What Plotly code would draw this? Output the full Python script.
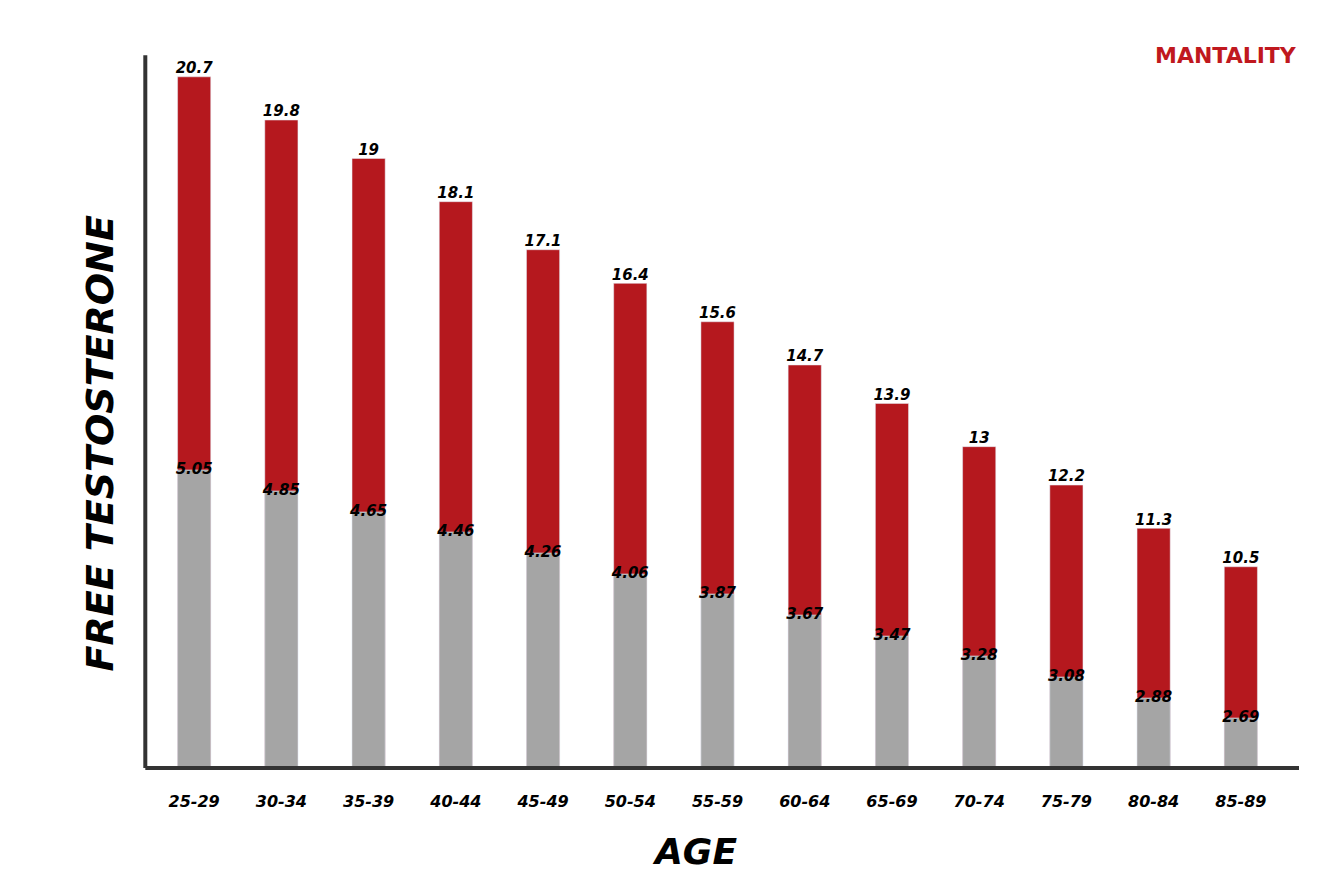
import plotly.graph_objects as go

ages = ["25-29","30-34","35-39","40-44","45-49","50-54","55-59","60-64","65-69","70-74","75-79","80-84","85-89"]
upper = [20.7,19.8,19,18.1,17.1,16.4,15.6,14.7,13.9,13,12.2,11.3,10.5]
lower = [5.05,4.85,4.65,4.46,4.26,4.06,3.87,3.67,3.47,3.28,3.08,2.88,2.69]
upper_labels = ["<b><i>%s</i></b>" % s for s in ["20.7","19.8","19","18.1","17.1","16.4","15.6","14.7","13.9","13","12.2","11.3","10.5"]]
lower_labels = ["<b><i>%s</i></b>" % s for s in ["5.05","4.85","4.65","4.46","4.26","4.06","3.87","3.67","3.47","3.28","3.08","2.88","2.69"]]
tick_labels = ["<b><i>%s</i></b>" % a for a in ages]

font_lbl = dict(family="DejaVu Sans", size=15, color="black")

fig = go.Figure()
fig.add_trace(go.Bar(x=ages, y=upper, marker_color="#B5181E", yaxis="y"))
fig.add_trace(go.Scatter(x=ages, y=upper, mode="text", text=upper_labels,
                         textposition="top center", textfont=font_lbl, yaxis="y",
                         cliponaxis=False))
fig.add_trace(go.Bar(x=ages, y=lower, marker_color="#A5A5A5", yaxis="y2"))
fig.add_trace(go.Scatter(x=ages, y=lower, mode="text", text=lower_labels,
                         textposition="middle center", textfont=font_lbl, yaxis="y2",
                         cliponaxis=False))

W, H = 1320, 880
fig.update_layout(
    width=W, height=H, showlegend=False, plot_bgcolor="white", paper_bgcolor="white",
    barmode="overlay", bargap=0.62,
    margin=dict(l=128, r=29, t=40, b=120),
    xaxis=dict(showline=False, ticks="", showgrid=False,
               tickvals=ages, ticktext=tick_labels,
               tickfont=dict(family="DejaVu Sans", size=16, color="black"), ticklabelstandoff=22),
    yaxis=dict(range=[6.31, 21.30], visible=False, showgrid=False),
    yaxis2=dict(range=[2.214, 9.065], overlaying="y", visible=False, showgrid=False),
    shapes=[dict(type="line", xref="paper", yref="paper", x0=0.008, x1=0.008, y0=0, y1=0.99,
                 line=dict(color="#333", width=4)),
            dict(type="line", xref="paper", yref="paper", x0=0.008, x1=1.0, y0=0, y1=0,
                 line=dict(color="#333", width=4))],
    annotations=[
        dict(text="<b><i>FREE TESTOSTERONE</i></b>", xref="paper", yref="paper", x=-0.052, y=0.45,
             textangle=-90, showarrow=False, font=dict(family="DejaVu Sans", size=38, color="black")),
        dict(text="<b><i>AGE</i></b>", xref="paper", yref="paper", x=0.48, y=-0.085,
             showarrow=False, yanchor="top", font=dict(family="DejaVu Sans", size=36, color="black")),
        dict(text="<b>MANTALITY</b>", xref="paper", yref="paper", x=1.0, y=1.01,
             xanchor="right", showarrow=False, font=dict(family="DejaVu Sans", size=22, color="#C0181E")),
    ],
)
fig.write_html("out.html")
